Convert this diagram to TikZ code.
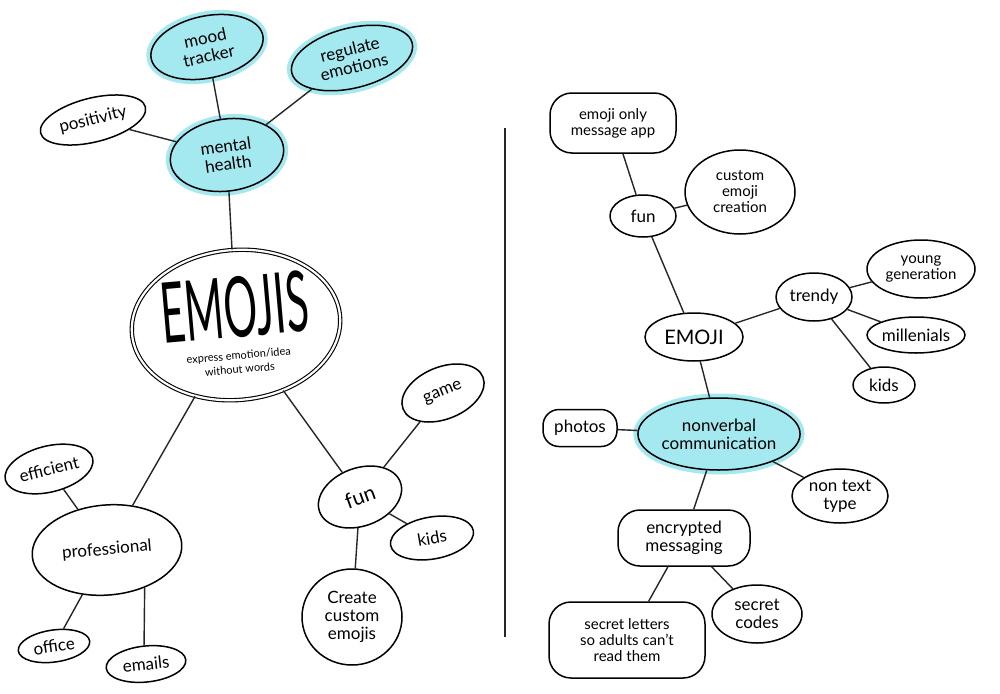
\documentclass[tikz,border=0pt]{standalone}
\usepackage{fontspec}
\setmainfont{Lato}
\usepackage{graphicx}
\usetikzlibrary{shapes.geometric}
\definecolor{hlcyan}{RGB}{164,232,240}
\tikzset{
  bub/.style={ellipse, draw=black, line width=1.5pt, inner sep=0pt, fill=white,
    align=center, font=\fontsize{17}{18}\selectfont},
  rbub/.style={rectangle, rounded corners=22pt, draw=black, line width=1.5pt, inner sep=3pt,
    fill=white, align=center, font=\fontsize{17}{18}\selectfont},
  hl/.style={fill=hlcyan, preaction={draw=hlcyan, line width=9pt}},
  small/.style={font=\fontsize{15}{16}\selectfont},
  bigbub/.style={ellipse, draw=black, double=white, double distance=2.2pt, line width=1.1pt,
    inner sep=0pt, align=center, font=\fontsize{11}{14}\selectfont},
  link/.style={line width=1.4pt, draw=black!85},
  divider/.style={line width=1.6pt, draw=black!85},
}
\begin{document}
\begin{tikzpicture}[x=1pt,y=-1pt]
\useasboundingbox[fill=white] (0,0) rectangle (1000,693);

% ---------- left map ----------
\node[bub, hl, minimum width=114, minimum height=62, rotate=12] (mood) at (207,47) {mood\\tracker};
\node[bub, hl, minimum width=124, minimum height=60, rotate=14] (reg) at (352,58) {regulate\\emotions};
\node[bub, minimum width=108, minimum height=44, rotate=14] (pos) at (93,120) {positivity};
\node[bub, hl, minimum width=114, minimum height=72, rotate=8] (mh) at (227,155) {mental\\health};
\node[bigbub, minimum width=200, minimum height=150, rotate=5] (emojis) at (236,325)
  {\scalebox{0.5}[1]{\fontsize{84}{84}\selectfont EMOJIS}\\[8pt]
   express emotion/idea\\
   without words};
\node[bub, minimum width=150, minimum height=90, rotate=5] (prof) at (107,550) {professional};
\node[bub, minimum width=90, minimum height=46, rotate=14] (eff) at (49,469) {efficient};
\node[bub, minimum width=72, minimum height=32, rotate=8] (office) at (54,646) {office};
\node[bub, minimum width=80, minimum height=36, rotate=6] (emails) at (146,664) {emails};
\node[bub, minimum width=86, minimum height=58, rotate=20, font=\fontsize{21}{22}\selectfont] (funL) at (360,497) {fun};
\node[bub, minimum width=86, minimum height=52, rotate=22] (game) at (443,393) {game};
\node[bub, minimum width=84, minimum height=42, rotate=10] (kidsL) at (432,538) {kids};
\node[bub, minimum width=100, minimum height=96] (create) at (352,617) {Create\\custom\\emojis};

\draw[link] (mh) -- (mood);
\draw[link] (mh) -- (reg);
\draw[link] (mh) -- (pos);
\draw[link] (mh) -- (emojis);
\draw[link] (emojis) -- (prof);
\draw[link] (emojis) -- (funL);
\draw[link] (prof) -- (eff);
\draw[link] (prof) -- (office);
\draw[link] (prof.-50) -- (emails.north);
\draw[link] (funL) -- (game);
\draw[link] (funL) -- (kidsL);
\draw[link] (funL) -- (create);

% ---------- divider ----------
\draw[divider] (505,128) -- (505,637);

% ---------- right map ----------
\node[rbub, small, minimum width=126, minimum height=60] (app) at (613,123) {emoji only\\message app};
\node[bub, minimum width=66, minimum height=42] (funR) at (643,216) {fun};
\node[bub, small, minimum width=110, minimum height=84] (custom) at (740,192) {custom\\emoji\\creation};
\node[bub, minimum width=98, minimum height=48, font=\fontsize{20}{21}\selectfont] (emoji) at (694,337) {EMOJI};
\node[bub, minimum width=76, minimum height=48] (trendy) at (814,297) {trendy};
\node[bub, small, minimum width=108, minimum height=58] (young) at (921,269) {young\\generation};
\node[bub, minimum width=98, minimum height=36] (mill) at (916,335) {millenials};
\node[bub, minimum width=62, minimum height=36] (kidsR) at (884,385) {kids};
\node[bub, hl, minimum width=160, minimum height=72] (nonv) at (719,434) {nonverbal\\communication};
\node[rbub, rounded corners=16pt, minimum width=74, minimum height=37] (photos) at (580,428) {photos};
\node[bub, minimum width=96, minimum height=54] (ntt) at (840,496) {non text\\type};
\node[rbub, minimum width=132, minimum height=56] (enc) at (684,538) {encrypted\\messaging};
\node[rbub, small, minimum width=156, minimum height=76] (sl) at (627,640) {secret letters\\so adults can't\\read them};
\node[bub, minimum width=90, minimum height=58] (codes) at (757,614) {secret\\codes};

\draw[link] (funR) -- (app);
\draw[link] (funR) -- (custom);
\draw[link] (funR) -- (emoji);
\draw[link] (emoji) -- (trendy);
\draw[link] (trendy) -- (young);
\draw[link] (trendy) -- (mill);
\draw[link] (trendy) -- (kidsR);
\draw[link] (emoji) -- (nonv);
\draw[link] (nonv) -- (photos);
\draw[link] (nonv) -- (ntt);
\draw[link] (nonv) -- (enc);
\draw[link] (enc) -- (sl);
\draw[link] (enc) -- (codes);
\end{tikzpicture}
\end{document}
